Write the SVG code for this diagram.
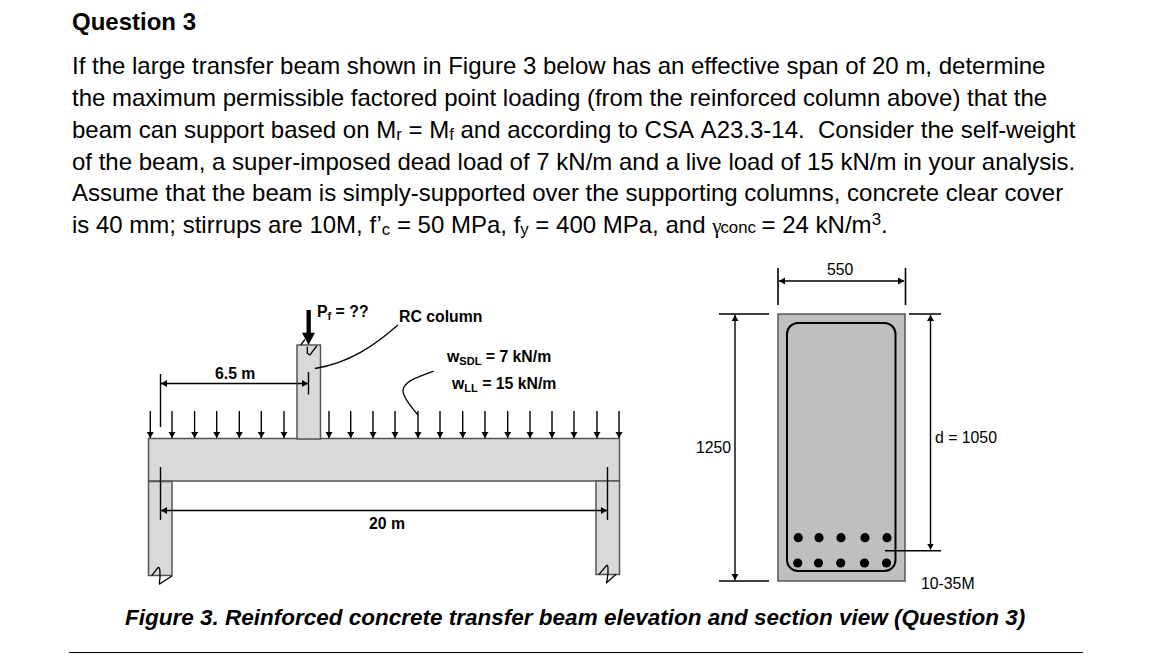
<svg xmlns="http://www.w3.org/2000/svg" width="1166" height="656" viewBox="0 0 1166 656">
<style>
text{font-family:"Liberation Sans",Arial,sans-serif;fill:#000;white-space:pre}
.b{font-size:24px}
.l{font-weight:700;font-size:15.800px}
.s{font-size:15.800px}
.sub{font-size:70%}
.c{fill:#d9d9d9;stroke:#555;stroke-width:1.5}
.d{fill:none;stroke:#000;stroke-width:1.4}
.t{fill:none;stroke:#000;stroke-width:1.3}
</style>
<defs>
<marker id="a" markerUnits="userSpaceOnUse" markerWidth="8" markerHeight="8" refX="6" refY="3.500" orient="auto-start-reverse"><path d="M0 0L6 3.500L0 7z" fill="#000"/></marker>
</defs>
<rect width="1166" height="656" fill="#fff"/>
<g id="question-text">
<text x="72" y="30" style="font-weight:700;font-size:24px">Question 3</text>
<text class="b" x="72" y="74">If the large transfer beam shown in Figure 3 below has an effective span of 20 m, determine</text>
<text class="b" x="72" y="106">the maximum permissible factored point loading (from the reinforced column above) that the</text>
<text class="b" x="72" y="138" style="font-kerning:none">beam can support based on M<tspan class="sub" dy="1.500">r</tspan><tspan dy="-1.500"> = M</tspan><tspan class="sub" dy="1.500">f</tspan><tspan dy="-1.500"> and according to CSA A23.3-14.  Consider the self-weight</tspan></text>
<text class="b" x="72" y="170">of the beam, a super-imposed dead load of 7 kN/m and a live load of 15 kN/m in your analysis.</text>
<text class="b" x="72" y="201">Assume that the beam is simply-supported over the supporting columns, concrete clear cover</text>
<text class="b" x="72" y="233">is 40 mm; stirrups are 10M, f’<tspan class="sub" dy="1.500">c</tspan><tspan dy="-1.500"> = 50 MPa, f</tspan><tspan class="sub" dy="1.500">y</tspan><tspan dy="-1.500"> = 400 MPa, and </tspan><tspan style="font-family:'Liberation Serif',serif;font-size:21px">γ</tspan><tspan class="sub" dx="-1">conc</tspan><tspan dx="-1"> = 24 kN/m</tspan><tspan class="sub" dy="-8">3</tspan><tspan dy="8">.</tspan></text>
</g>
<g id="beam">
<rect class="c" x="148.500" y="438.500" width="471" height="42.500"/>
</g>
<g id="column-top">
<rect class="c" x="297" y="345" width="23.500" height="94"/>
<path class="t" d="M300.700 345L305 339.300M307.300 346.700V353.300L310 355L316.700 346"/>
</g>
<g id="column-left">
<rect class="c" x="148.500" y="481.500" width="23.500" height="94"/>
<path class="t" d="M151.700 575.700L158 567.500C160 567 160 571 160 576C160 580 159 583 159.500 584L172 576"/>
</g>
<g id="column-right">
<rect class="c" x="596" y="481" width="23.500" height="93.500"/>
<path class="t" d="M599 574.300L606.700 565.300C608 565 608 568 608 572C608 577 606.500 581 606.700 582.700L616 574.300"/>
</g>
<g id="section">
<rect x="778" y="314" width="127" height="267" fill="#bfbfbf" stroke="#555" stroke-width="1.500"/>
<rect x="787" y="323" width="108.500" height="248" rx="11" fill="none" stroke="#000" stroke-width="2"/>
<g fill="#000">
<circle cx="798.300" cy="537.700" r="4.600"/><circle cx="819" cy="537.700" r="4.600"/><circle cx="841" cy="537.700" r="4.600"/><circle cx="865" cy="537.700" r="4.600"/><circle cx="887" cy="537.700" r="4.600"/>
<circle cx="797.700" cy="563" r="4.600"/><circle cx="818.500" cy="563" r="4.600"/><circle cx="840.700" cy="563" r="4.600"/><circle cx="864.500" cy="563" r="4.600"/><circle cx="886.500" cy="563" r="4.600"/>
</g>
</g>
<g id="connectors">
<g class="d">
<path marker-end="url(#a)" d="M150.300 411V438"/><path marker-end="url(#a)" d="M172 411V438"/><path marker-end="url(#a)" d="M194.600 411V438"/><path marker-end="url(#a)" d="M216.700 411V438"/><path marker-end="url(#a)" d="M239.300 411V438"/><path marker-end="url(#a)" d="M261.300 411V438"/><path marker-end="url(#a)" d="M284 411V438"/>
<path marker-end="url(#a)" d="M329 411V438"/><path marker-end="url(#a)" d="M350.700 411V438"/><path marker-end="url(#a)" d="M373 411V438"/><path marker-end="url(#a)" d="M395 411V438"/><path marker-end="url(#a)" d="M418 411V438"/><path marker-end="url(#a)" d="M440 411V438"/><path marker-end="url(#a)" d="M462.700 411V438"/><path marker-end="url(#a)" d="M485 411V438"/><path marker-end="url(#a)" d="M507.700 411V438"/><path marker-end="url(#a)" d="M530 411V438"/><path marker-end="url(#a)" d="M552 411V438"/><path marker-end="url(#a)" d="M574 411V438"/><path marker-end="url(#a)" d="M597 411V438"/><path marker-end="url(#a)" d="M619 411V438"/>
<path d="M160.500 374V427M308.500 372V394.500M160.500 467V520M607.500 467V520"/>
<path marker-start="url(#a)" marker-end="url(#a)" d="M161 383.500H308"/>
<path marker-start="url(#a)" marker-end="url(#a)" d="M161 510.500H607"/>
<path marker-start="url(#a)" marker-end="url(#a)" d="M779 281H904"/>
<path marker-start="url(#a)" marker-end="url(#a)" d="M735 315V580"/>
<path marker-start="url(#a)" marker-end="url(#a)" d="M930.500 315V549.500"/>
</g>
<path d="M308.700 310V336" stroke="#000" stroke-width="4.300" fill="none"/>
<path d="M302 332.700H315L308.500 345z" fill="#000"/>
<path class="t" d="M315 368.500C350 363 375 345 398 325"/>
<path class="t" d="M434 371C415 378 403 382 403 391C403 397 412 408 418 415"/>
<path d="M778 268V305M905.500 268V305" stroke="#000" stroke-width="1.600" fill="none"/>
<path d="M719 314H769M909 314H941M719 581H769M885 550.700H941" stroke="#000" stroke-width="1.500" fill="none"/>
</g>
<g id="labels">
<text class="l" x="317" y="317">P<tspan class="sub" dy="3">f</tspan><tspan dy="-3"> = ??</tspan></text>
<text class="l" x="399" y="322">RC column</text>
<text class="l" x="215" y="378.500">6.5 m</text>
<text class="l" x="447" y="362">w<tspan class="sub" dy="3">SDL</tspan><tspan dy="-3"> = 7 kN/m</tspan></text>
<text class="l" x="452" y="389">w<tspan class="sub" dy="3">LL</tspan><tspan dy="-3"> = 15 kN/m</tspan></text>
<text class="l" x="369" y="529">20 m</text>
<text class="s" x="827" y="275">550</text>
<text class="s" x="696" y="453">1250</text>
<text class="s" x="935" y="443">d = 1050</text>
<text class="s" x="921" y="589">10-35M</text>
</g>
<g id="caption">
<text x="125" y="625" style="font-weight:700;font-style:italic;font-size:22.500px">Figure 3. Reinforced concrete transfer beam elevation and section view (Question 3)</text>
<path d="M69 652.500H1083" stroke="#000" stroke-width="1.200"/>
</g>
</svg>
